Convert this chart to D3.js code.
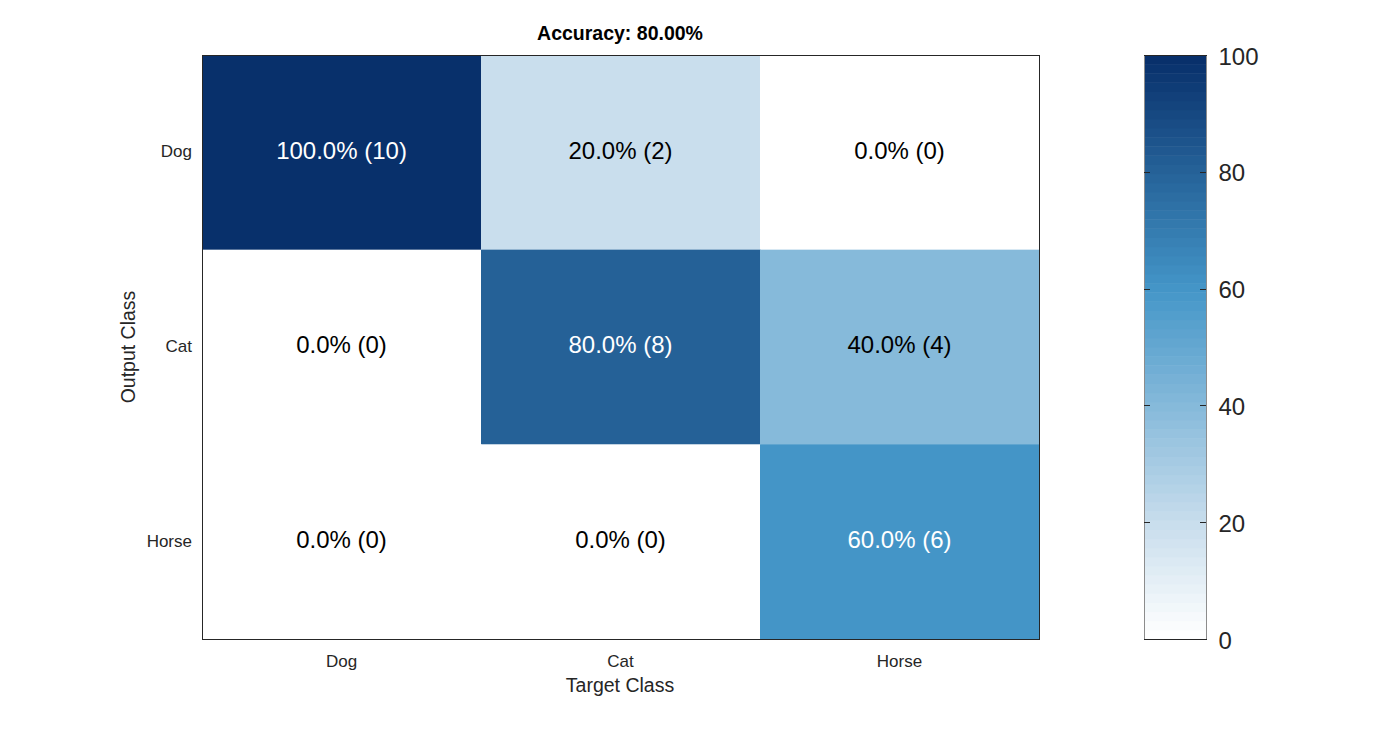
<!DOCTYPE html>
<html>
<head>
<meta charset="utf-8">
<script src="https://cdn.jsdelivr.net/npm/d3@7"></script>
<style>
  body { margin: 0; background: #fff; }
  text { font-family: "Liberation Sans", Arial, sans-serif; fill: #262626; }
</style>
</head>
<body>
<div id="chart"></div>
<script>
var classes = ["Dog", "Cat", "Horse"];
// rows = output class, columns = target class
var counts = [[10, 2, 0], [0, 8, 4], [0, 0, 6]];
var percents = [[100, 20, 0], [0, 80, 40], [0, 0, 60]];
var barTicks = [0, 20, 40, 60, 80, 100];
var accuracy = 80;

// colour map: white -> light blue -> mid blue -> navy, 64 steps
var stopColors = ["#ffffff", "#c6dcec", "#4496c8", "#08306b"];
var stopAt = [0, 0.2, 0.6, 1];
var nLevels = 64;
var ramp = d3.scaleLinear().domain(stopAt).range(stopColors).interpolate(d3.interpolateRgb);
var levels = d3.range(nLevels).map((i)=> { return ramp(i / (nLevels - 1)); });
var color = d3.scaleQuantize().domain([0, 100]).range(levels);

let svg = d3.select('#chart').append('svg')
  .attr('width', 1379)
  .attr('height', 739);

let x = d3.scaleBand().domain(classes).range([202, 1039]);
let y = d3.scaleBand().domain(classes).range([55, 639]);

// cells
let cells = [];
classes.forEach((row, i)=> {
  classes.forEach((col, j)=> {
    cells.push({row: row, col: col, pct: percents[i][j], n: counts[i][j]});
  });
});

let g = svg.append('g');
g.selectAll('rect').data(cells).enter().append('rect')
  .attr('x', (d)=> x(d.col))
  .attr('y', (d)=> y(d.row))
  .attr('width', x.bandwidth() + 0.5)
  .attr('height', y.bandwidth() + 0.5)
  .attr('fill', (d)=> color(d.pct));

g.selectAll('text.cell').data(cells).enter().append('text')
  .attr('class', 'cell')
  .attr('x', (d)=> x(d.col) + x.bandwidth() / 2)
  .attr('y', (d)=> y(d.row) + y.bandwidth() / 2 - 2)
  .attr('dy', '0.35em')
  .attr('text-anchor', 'middle')
  .style('font-size', '24px')
  .style('fill', (d)=> d.pct > 50 ? '#ffffff' : '#000000')
  .text((d)=> d.pct.toFixed(1) + '% (' + d.n + ')');

// frame
svg.append('rect')
  .attr('x', 202.5).attr('y', 55.5)
  .attr('width', 1039 - 202).attr('height', 639 - 55)
  .attr('fill', 'none').attr('stroke', '#262626').attr('stroke-width', 1);

// tick labels
svg.selectAll('text.xt').data(classes).enter().append('text')
  .attr('class', 'xt')
  .attr('x', (d)=> x(d) + x.bandwidth() / 2)
  .attr('y', 667)
  .attr('text-anchor', 'middle')
  .style('font-size', '17px')
  .text((d)=> d);

svg.selectAll('text.yt').data(classes).enter().append('text')
  .attr('class', 'yt')
  .attr('x', 192)
  .attr('y', (d)=> y(d) + y.bandwidth() / 2 - 1)
  .attr('dy', '0.35em')
  .attr('text-anchor', 'end')
  .style('font-size', '17px')
  .text((d)=> d);

// axis labels
svg.append('text')
  .attr('x', 620).attr('y', 692)
  .attr('text-anchor', 'middle')
  .style('font-size', '19.5px')
  .text('Target Class');

svg.append('text')
  .attr('transform', 'translate(135, 347) rotate(-90)')
  .attr('text-anchor', 'middle')
  .style('font-size', '19.5px')
  .text('Output Class');

svg.append('text')
  .attr('x', 620).attr('y', 40)
  .attr('text-anchor', 'middle')
  .style('font-size', '19.5px')
  .style('font-weight', 'bold')
  .style('fill', '#000')
  .text('Accuracy: ' + accuracy.toFixed(2) + '%');

// colorbar
let cbX = 1144, cbW = 62;
let cy = d3.scaleLinear().domain([0, 100]).range([639, 55]);
let step = 100 / nLevels;
svg.append('g').selectAll('rect').data(levels).enter().append('rect')
  .attr('x', cbX)
  .attr('y', (d, i)=> cy((i + 1) * step))
  .attr('width', cbW)
  .attr('height', (d, i)=> cy(i * step) - cy((i + 1) * step) + 0.5)
  .attr('fill', (d)=> d);

// colorbar edges: grey sides, dark top and bottom
svg.append('line').attr('x1', cbX + 0.5).attr('x2', cbX + 0.5).attr('y1', 55).attr('y2', 639)
  .attr('stroke', '#8c8c8c');
svg.append('line').attr('x1', cbX + cbW + 0.5).attr('x2', cbX + cbW + 0.5).attr('y1', 55).attr('y2', 639)
  .attr('stroke', '#8c8c8c');
svg.append('line').attr('x1', cbX).attr('x2', cbX + cbW + 1).attr('y1', 55.5).attr('y2', 55.5)
  .attr('stroke', '#262626');
svg.append('line').attr('x1', cbX).attr('x2', cbX + cbW + 1).attr('y1', 639.5).attr('y2', 639.5)
  .attr('stroke', '#262626');

let cbAxis = svg.append('g').attr('transform', 'translate(' + (cbX + cbW + 0.5) + ',1.5)')
  .call(d3.axisRight(cy).tickValues(barTicks).tickSize(0).tickPadding(12));
cbAxis.select('.domain').remove();
cbAxis.selectAll('text').style('font-size', '24px').attr('fill', '#262626')
  .style('font-family', '"Liberation Sans", Arial, sans-serif');

let inner = barTicks.filter((t)=> t > 0 && t < 100);
svg.append('g').selectAll('line.tl').data(inner).enter().append('line')
  .attr('x1', cbX).attr('x2', cbX + 6)
  .attr('y1', (d)=> Math.round(cy(d)) + 0.5).attr('y2', (d)=> Math.round(cy(d)) + 0.5)
  .attr('stroke', '#262626');
svg.append('g').selectAll('line.tr').data(inner).enter().append('line')
  .attr('x1', cbX + cbW - 6).attr('x2', cbX + cbW)
  .attr('y1', (d)=> Math.round(cy(d)) + 0.5).attr('y2', (d)=> Math.round(cy(d)) + 0.5)
  .attr('stroke', '#262626');
</script>
</body>
</html>
